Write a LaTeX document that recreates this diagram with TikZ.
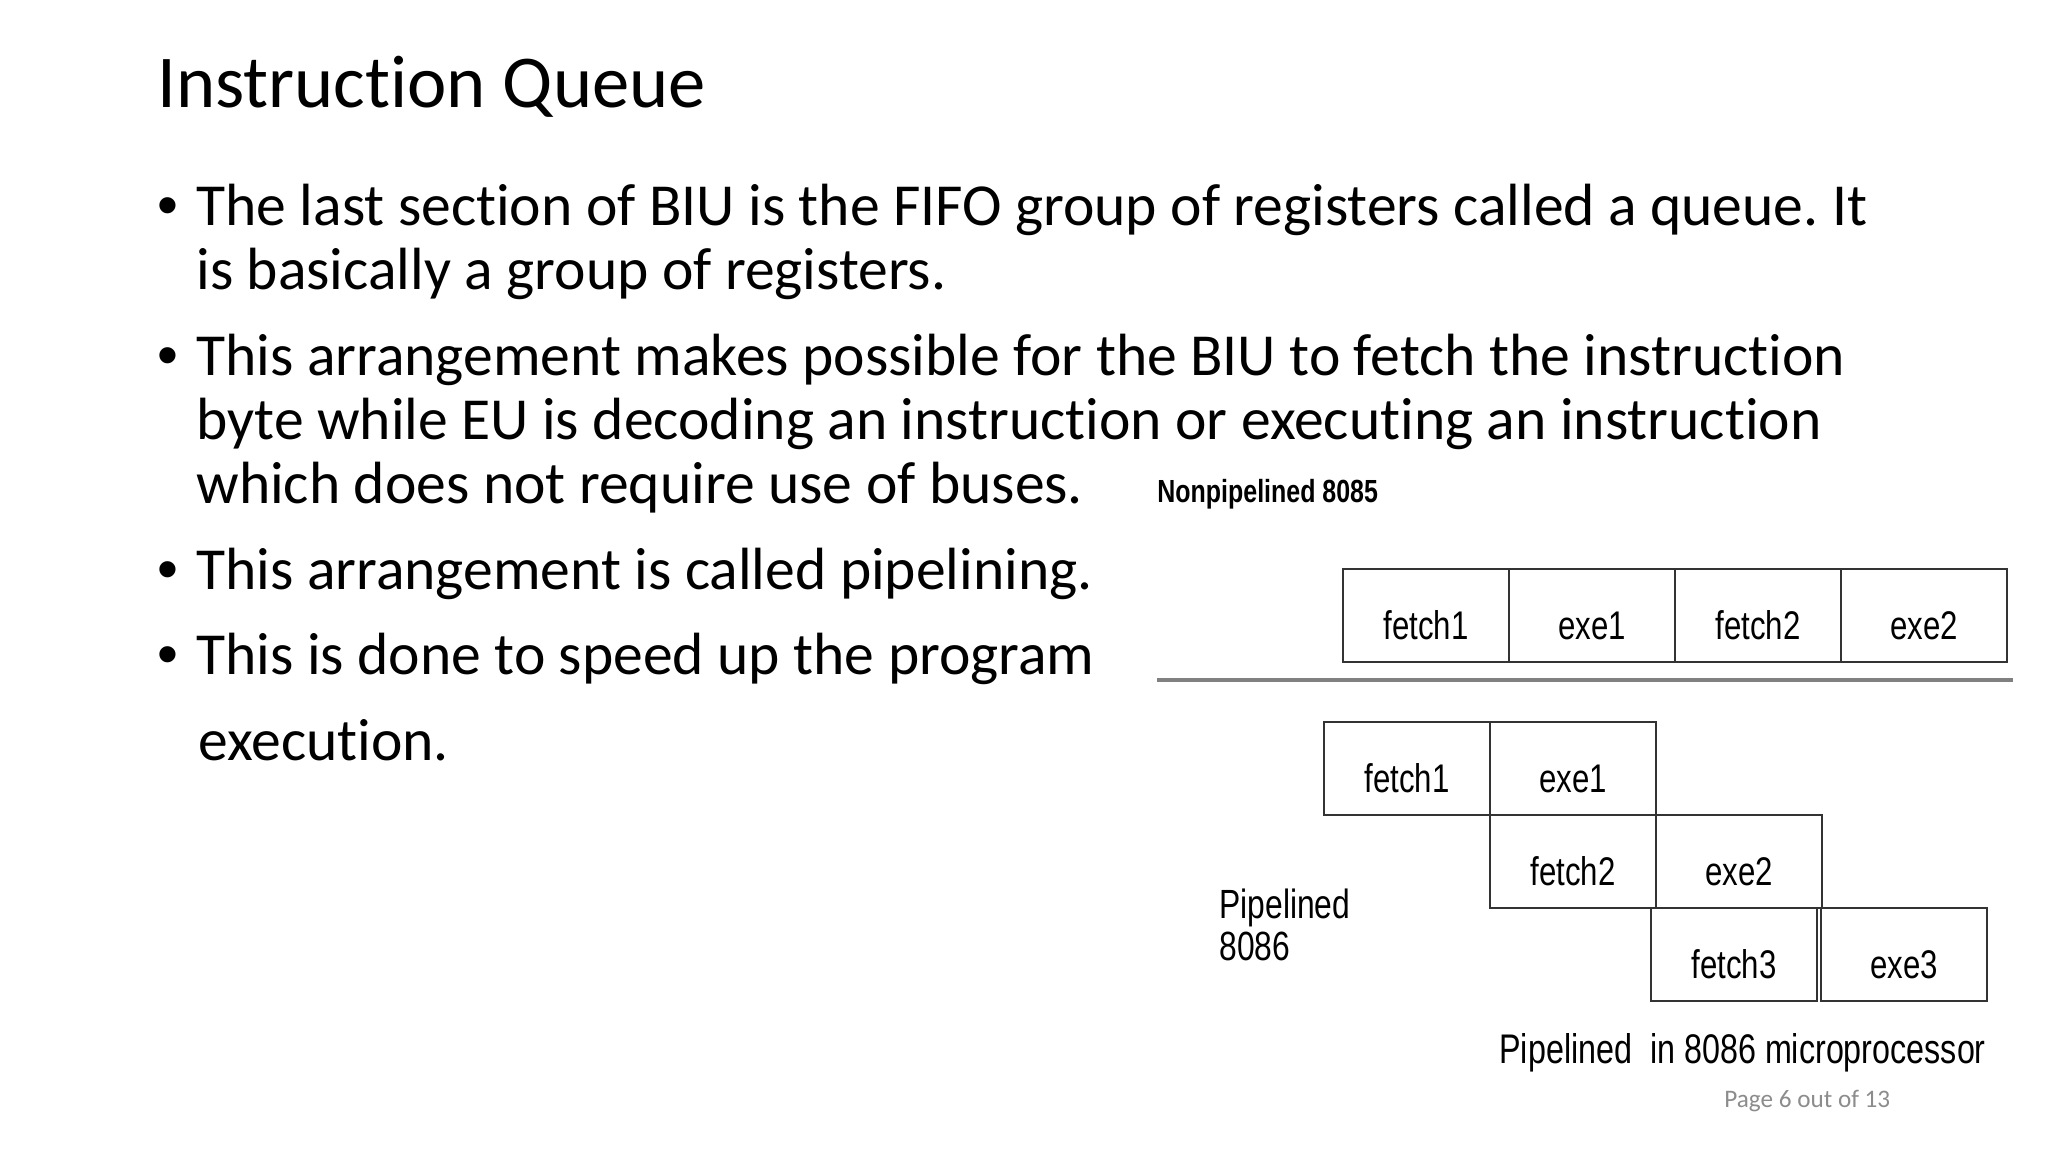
\documentclass[tikz,border=0pt]{standalone}
\usepackage{fontspec}
\setmainfont{Carlito}[Ligatures={NoCommon,NoRare}]
\newfontfamily\diagfont[FakeStretch=0.78]{Liberation Sans}
\newfontfamily\bulfont{Liberation Sans}
\usepackage{tikz}
\usetikzlibrary{positioning}
\definecolor{boxline}{HTML}{333333}
\definecolor{pagegray}{HTML}{8C8C8C}
\tikzset{node distance=0pt, auto}
\tikzset{
  line/.style={anchor=base west, inner sep=0pt, font=\fontsize{29.8}{32}\selectfont},
  dot/.style={anchor=base west, inner sep=0pt, font=\bulfont\fontsize{29.8}{32}\selectfont},
  stage/.style={draw=boxline, line width=1.1pt, minimum width=83pt, minimum height=46.5pt,
                inner sep=0pt, outer sep=0pt, text height=23.5pt, text depth=0pt,
                font=\diagfont\fontsize{20}{22}\selectfont},
  lbl/.style={anchor=base west, inner sep=0pt, font=\diagfont\fontsize{20.4}{22}\selectfont}
}

\begin{document}
\frenchspacing
\begin{tikzpicture}[x=0.5pt, y=-0.5pt]
			\useasboundingbox[fill=white] (0,0) rectangle (2048,1152);
			% title and bullets
			\node (title) [anchor=base west, inner sep=0pt, font=\fontsize{37.3}{40}\selectfont] at (157,107) {Instruction Queue};
			\node (b1) [dot] at (157,225) {•};
			\node (l1) [line] at (196,225) {The last section of BIU is the FIFO group of registers called a queue. It};
			\node (l2) [line] at (196,289) {is basically a group of registers.};
			\node (b2) [dot] at (157,375) {•};
			\node (l3) [line] at (196,375) {This arrangement makes possible for the BIU to fetch the instruction};
			\node (l4) [line] at (196,439) {byte while EU is decoding an instruction or executing an instruction};
			\node (l5) [line] at (196,503) {which does not require use of buses.};
			\node (b3) [dot] at (157,589) {•};
			\node (l6) [line] at (196,589) {This arrangement is called pipelining.};
			\node (b4) [dot] at (157,674) {•};
			\node (l7) [line] at (196,674) {This is done to speed up the program};
			\node (l8) [line] at (198,760) {execution.};
			%
			% nonpipelined 8085
			\node (np) [lbl, font=\diagfont\bfseries\fontsize{16}{18}\selectfont] at (1157,502) {Nonpipelined 8085};
			\node (nf1) [stage, anchor=north west] at (1343,569) {fetch1};
			\node (ne1) [stage, right=of nf1] {exe1};
			\node (nf2) [stage, right=of ne1] {fetch2};
			\node (ne2) [stage, right=of nf2] {exe2};
			\coordinate (sl) at (1157,680);
			\coordinate (sr) at (2013,680);
			\draw[draw=gray, line width=1.6pt] (sl) -- (sr);
			%
			% pipelined 8086
			\node (pf1) [stage, anchor=north west] at (1324,722) {fetch1};
			\node (pe1) [stage, right=of pf1] {exe1};
			\node (pf2) [stage, below=of pe1] {fetch2};
			\node (pe2) [stage, right=of pf2] {exe2};
			\node (pf3) [stage, below=of pe2, xshift=-2.5pt] {fetch3};
			\node (pe3) [stage, right=2pt of pf3] {exe3};
			\node (pl) [lbl] at (1219,918) {Pipelined};
			\node (pn) [lbl] at (1219,960) {8086};
			\node (cap) [lbl, font=\diagfont\fontsize{20.7}{22}\selectfont] at (1499,1063) {Pipelined\ \ in 8086 microprocessor};
			%
			\node (page) [anchor=base west, inner sep=0pt, text=pagegray, font=\fontsize{12.6}{14}\selectfont] at (1724,1107) {Page 6 out of 13};
		\end{tikzpicture}
\end{document}
